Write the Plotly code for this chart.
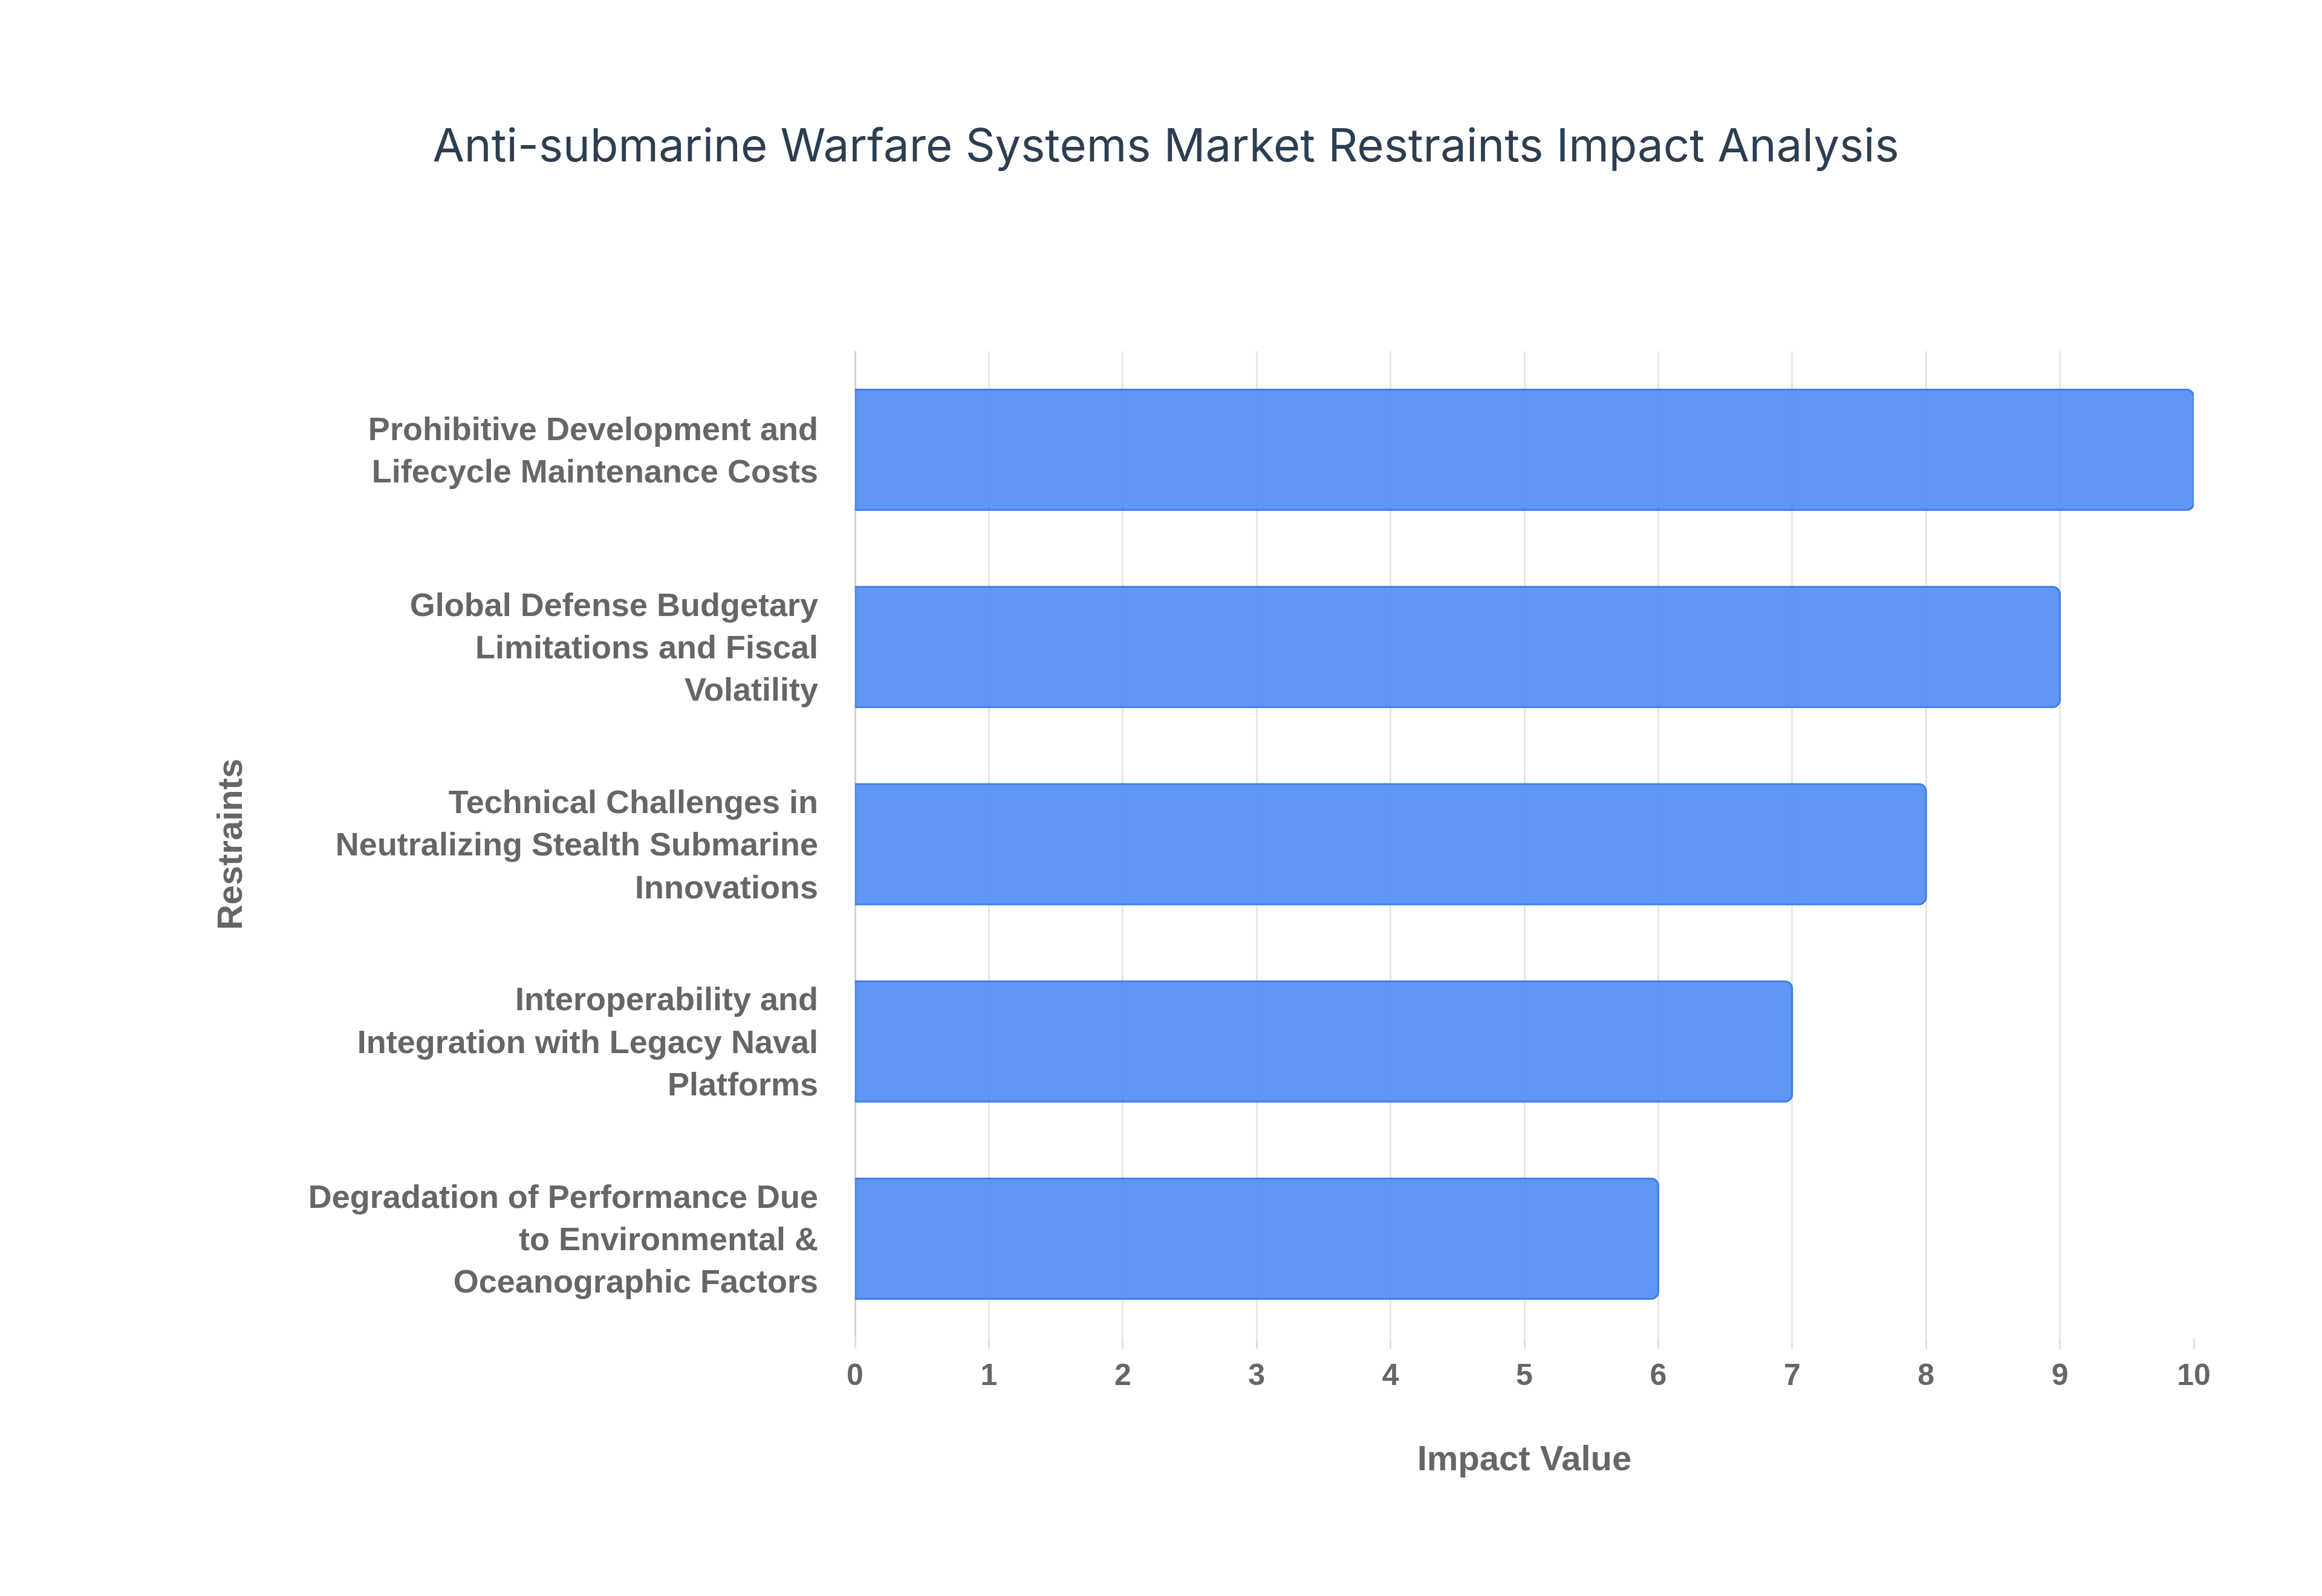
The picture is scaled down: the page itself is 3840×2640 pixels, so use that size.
import plotly.graph_objects as go

categories = [
    "Prohibitive Development and<br>Lifecycle Maintenance Costs",
    "Global Defense Budgetary<br>Limitations and Fiscal<br>Volatility",
    "Technical Challenges in<br>Neutralizing Stealth Submarine<br>Innovations",
    "Interoperability and<br>Integration with Legacy Naval<br>Platforms",
    "Degradation of Performance Due<br>to Environmental &<br>Oceanographic Factors",
]
values = [10, 9, 8, 7, 6]

fig = go.Figure(go.Bar(
    x=values, y=categories, orientation="h", width=0.61,
    marker=dict(color="rgba(83,141,245,0.92)", line=dict(color="#3f7fe9", width=3)),
))
fig.update_layout(
    width=3840, height=2640,
    paper_bgcolor="white", plot_bgcolor="white",
    margin=dict(l=1406, r=220, t=573, b=436),
    barcornerradius=12,
    title=dict(text="Anti-submarine Warfare Systems Market Restraints Impact Analysis",
               x=0.5, xanchor="center", y=0.912, yanchor="middle",
               font=dict(family="Inter, Open Sans, sans-serif", size=76, color="#2c3e50")),
    font=dict(family="Liberation Sans, Arial, sans-serif", color="#666666"),
    showlegend=False,
)
fig.update_xaxes(range=[0, 10], dtick=1, showgrid=True, gridcolor="#e6e6e6", gridwidth=3,
                 zeroline=True, zerolinecolor="#d0d0d0", zerolinewidth=3,
                 ticks="outside", ticklen=18, tickcolor="#e0e0e0", tickwidth=3,
                 tickfont=dict(size=50, weight="bold", color="#666666"),
                 title=dict(text="Impact Value", font=dict(size=58, weight="bold", color="#666666"), standoff=90))
fig.update_yaxes(autorange="reversed", showgrid=False, ticks="", ticklabelstandoff=60,
                 tickfont=dict(size=54, weight="bold", color="#666666"),
                 title=dict(text="Restraints", font=dict(size=58, weight="bold", color="#666666"), standoff=90))
fig.write_html("out.html")
